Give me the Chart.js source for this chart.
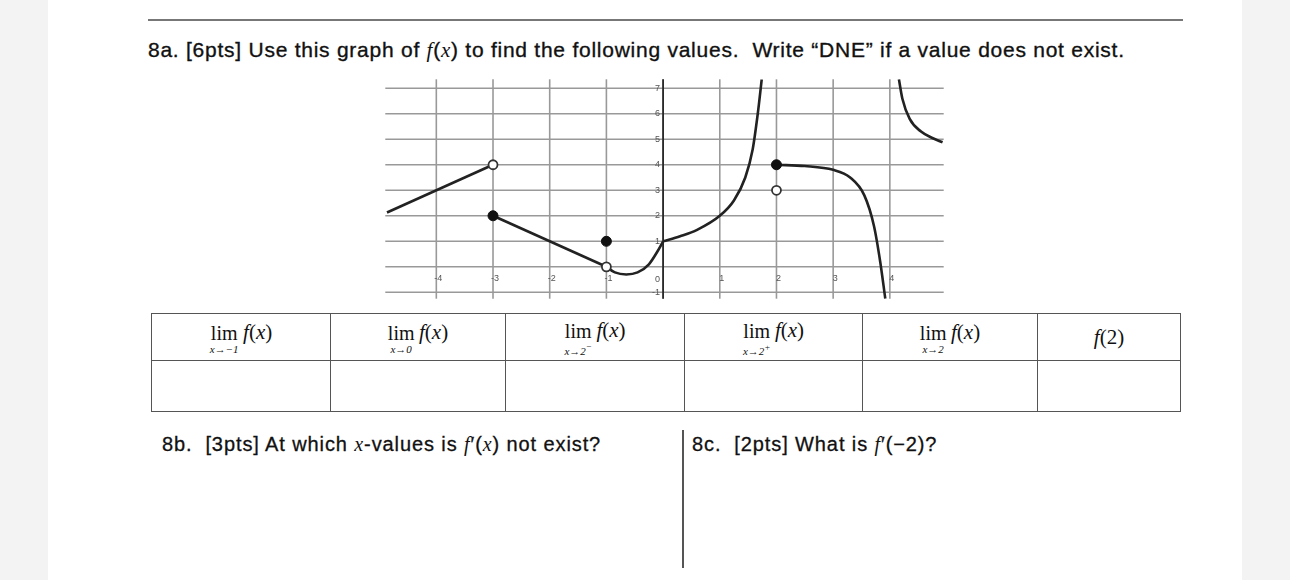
<!DOCTYPE html>
<html><head><meta charset="utf-8">
<script src="https://cdn.jsdelivr.net/npm/chart.js@4"></script>
<style>
body{margin:0;width:1290px;height:580px;background:#f3f3f3;position:relative;overflow:hidden;font-family:"Liberation Sans",Arial,sans-serif;color:#111}
#sheet{position:absolute;left:48px;top:0;width:1194px;height:580px;background:#fff}
#rule{position:absolute;left:148px;top:19px;width:1035px;border-top:2px solid #777}
#title{position:absolute;left:148px;top:38px;font-size:21px;letter-spacing:0.75px;white-space:nowrap;-webkit-text-stroke:0.35px #111}
.m{font-family:"Liberation Serif","DejaVu Serif",serif;font-style:italic;-webkit-text-stroke:0}
#wrap{position:absolute;left:379px;top:73px;width:571px;height:232px}
table{position:absolute;left:151px;top:313px;border-collapse:collapse}
td{border:1.5px solid #555;padding:0;text-align:center;vertical-align:middle}
tr.h td{height:46px}
tr.b td{height:50px}
.lim{display:inline-block;text-align:center;font-family:"Liberation Serif",serif;font-size:20px;line-height:19px;vertical-align:top;margin-top:4px}
.lim small{display:block;font-size:11px;font-style:italic;line-height:12px}
.fx{font-family:"Liberation Serif",serif;font-size:21px;font-style:italic;vertical-align:top;line-height:24px}
#b8{position:absolute;left:162px;top:433px;font-size:20px;letter-spacing:0.9px;-webkit-text-stroke:0.3px #111}
#c8{position:absolute;left:692px;top:433px;font-size:20px;letter-spacing:0.9px;-webkit-text-stroke:0.3px #111}
#vl{position:absolute;left:682px;top:430px;height:138px;border-left:2px solid #555}
</style></head><body>
<div id="sheet"></div>
<div id="rule"></div>
<div id="title">8a. [6pts] Use this graph of <span class="m">f</span>(<span class="m">x</span>) to find the following values.&nbsp; Write “DNE” if a value does not exist.</div>
<div id="wrap"><canvas id="c" width="571" height="232"></canvas></div>
<table>
<tr class="h">
<td style="width:178px"><span class="lim">lim<small>x→−1</small></span> <span class="fx">f</span><span class="fx" style="font-style:normal">(</span><span class="fx">x</span><span class="fx" style="font-style:normal">)</span></td>
<td style="width:174px"><span class="lim">lim<small>x→0</small></span> <span class="fx">f</span><span class="fx" style="font-style:normal">(</span><span class="fx">x</span><span class="fx" style="font-style:normal">)</span></td>
<td style="width:178px"><span class="lim">lim<small>x→2<sup>−</sup></small></span> <span class="fx">f</span><span class="fx" style="font-style:normal">(</span><span class="fx">x</span><span class="fx" style="font-style:normal">)</span></td>
<td style="width:177px"><span class="lim">lim<small>x→2<sup>+</sup></small></span> <span class="fx">f</span><span class="fx" style="font-style:normal">(</span><span class="fx">x</span><span class="fx" style="font-style:normal">)</span></td>
<td style="width:174px"><span class="lim">lim<small>x→2</small></span> <span class="fx">f</span><span class="fx" style="font-style:normal">(</span><span class="fx">x</span><span class="fx" style="font-style:normal">)</span></td>
<td style="width:142px"><span class="fx">f</span><span class="fx" style="font-style:normal">(2)</span></td>
</tr>
<tr class="b"><td></td><td></td><td></td><td></td><td></td><td></td></tr>
</table>
<div id="b8">8b.&nbsp; [3pts] At which <span class="m">x</span>-values is <span class="m">f</span>′(<span class="m">x</span>) not exist?</div>
<div id="vl"></div>
<div id="c8">8c.&nbsp; [2pts] What is <span class="m">f</span>′(−2)?</div>
<script>
const xTicks=[-4,-3,-2,-1,0,1,2,3,4];
const yTicks=[-1,0,1,2,3,4,5,6,7];
const seg1X=[-4.87,-3], seg1Y=[2.13,4];
const seg2X=[-3,-1], seg2Y=[2,0];
const seg3X=[-1,-0.85,-0.65,-0.45,-0.25,-0.1,0], seg3Y=[0,-0.22,-0.3,-0.22,0.1,0.6,1];
const seg4X=[0,0.3,0.6,1,1.25,1.45,1.58,1.67,1.74], seg4Y=[1,1.2,1.45,2,2.6,3.5,4.6,6,7.35];
const seg5X=[2,2.5,3,3.3,3.55,3.72,3.83,3.92], seg5Y=[4,3.95,3.8,3.5,2.8,1.6,0.2,-1.25];
const seg6X=[4.16,4.22,4.35,4.55,4.75,4.93], seg6Y=[7.35,6.6,5.8,5.3,5.05,4.88];
const closedX=[-3,-1,2], closedY=[2,1,4];
const openX=[-3,-1,2], openY=[4,0,3];
const pts=(xs,ys)=>xs.map((x,i)=>({x,y:ys[i]}));
const line=(xs,ys,t)=>({data:pts(xs,ys),showLine:true,borderColor:'#222',borderWidth:2.6,pointRadius:0,tension:t,cubicInterpolationMode:t?'monotone':'default',order:2});
const grid={id:'grid',beforeDatasetsDraw(ch){const c=ch.ctx,x=ch.scales.x,y=ch.scales.y,a=ch.chartArea;c.save();c.strokeStyle='#999';c.lineWidth=1.6;
xTicks.forEach(v=>{const p=x.getPixelForValue(v);c.beginPath();c.moveTo(p,a.top);c.lineTo(p,a.bottom);c.stroke();});
yTicks.forEach(v=>{const p=y.getPixelForValue(v);c.beginPath();c.moveTo(a.left,p);c.lineTo(a.right,p);c.stroke();});
c.strokeStyle='#111';c.lineWidth=1.5;const z=x.getPixelForValue(0);c.beginPath();c.moveTo(z,a.top);c.lineTo(z,a.bottom);c.stroke();
c.font='9px "Liberation Sans"';c.fillStyle='#555';
c.textAlign='right';c.textBaseline='middle';yTicks.forEach(v=>{if(v!==0)c.fillText(String(v),z-3,y.getPixelForValue(v))});
c.fillText('0',z-3,y.getPixelForValue(0)+13);
c.textAlign='center';c.textBaseline='top';xTicks.forEach(v=>{if(v!==0)c.fillText(String(v),x.getPixelForValue(v)+2,y.getPixelForValue(0)+7)});
c.restore();}};
new Chart(document.getElementById('c'),{type:'scatter',
data:{datasets:[line(seg1X,seg1Y,0),line(seg2X,seg2Y,0),line(seg3X,seg3Y,0.4),line(seg4X,seg4Y,0.4),line(seg5X,seg5Y,0.4),line(seg6X,seg6Y,0.4),
{data:pts(closedX,closedY),pointRadius:5,pointBackgroundColor:'#111',pointBorderColor:'#111',order:0},
{data:pts(openX,openY),pointRadius:4.5,pointBackgroundColor:'#fff',pointBorderColor:'#333',pointBorderWidth:1.8,order:0}]},
options:{animation:false,responsive:false,layout:{padding:0},
plugins:{legend:{display:false},tooltip:{enabled:false}},
scales:{x:{type:'linear',min:-4.9,max:4.95,display:false},
y:{type:'linear',min:-1.25,max:7.35,display:false}}},
plugins:[grid]});
</script>
</body></html>
